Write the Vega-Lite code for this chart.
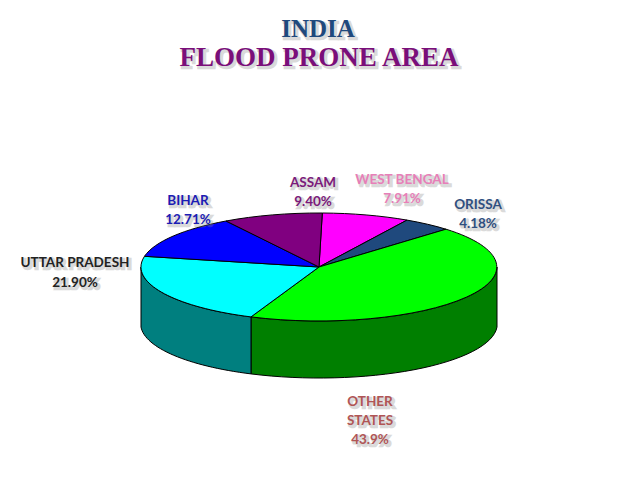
{"$schema":"https://vega.github.io/schema/vega-lite/v6.json","width":638,"height":479,"padding":0,"autosize":"none","background":"white","config":{"view":{"stroke":null}},
"data":{"values":[
{"name":"WEST BENGAL","label":"WEST BENGAL\n7.91%","value":7.91},
{"name":"ORISSA","label":"ORISSA\n4.18%","value":4.18},
{"name":"OTHER STATES","label":"OTHER\nSTATES\n43.9%","value":43.9},
{"name":"UTTAR PRADESH","label":"UTTAR PRADESH\n21.90%","value":21.9},
{"name":"BIHAR","label":"BIHAR\n12.71%","value":12.71},
{"name":"ASSAM","label":"ASSAM\n9.40%","value":9.4},
{"name":"INDIA","label":"INDIA"},
{"name":"FLOOD PRONE AREA","label":"FLOOD PRONE AREA"}]},
"resolve":{"scale":{"shape":"independent","fill":"independent"}},
"layer":[
{"transform":[{"filter":"datum.name==='OTHER STATES'||datum.name==='UTTAR PRADESH'"}],
 "mark":{"type":"point","filled":true,"size":4,"opacity":1,"stroke":"#000","strokeWidth":1},
 "encoding":{"shape":{"field":"name","type":"nominal","legend":null,"scale":{"domain":["OTHER STATES","UTTAR PRADESH"],"range":["M178 27.5A178 54 0 0 1 -68 77.4L-68 134.4A178 54 0 0 0 178 87.5Z","M-68 77.4A178 54 0 0 1 -178 27.5L-178 87.5A178 54 0 0 0 -68 134.4Z"]}},
 "fill":{"field":"name","type":"nominal","legend":null,"scale":{"domain":["OTHER STATES","UTTAR PRADESH"],"range":["#007f00","#007f7f"]}}}},
{"transform":[{"filter":"isValid(datum.value)"}],
 "mark":{"type":"point","filled":true,"size":4,"opacity":1,"stroke":"#000","strokeWidth":1},
 "encoding":{"shape":{"field":"name","type":"nominal","legend":null,"scale":{"domain":["WEST BENGAL","ORISSA","OTHER STATES","UTTAR PRADESH","BIHAR","ASSAM"],"range":[
 "M0 27.5L3.3 -26.5A178 54 0 0 1 88 -19.4Z",
 "M0 27.5L88 -19.4A178 54 0 0 1 127 -10.3Z",
 "M0 27.5L127 -10.3A178 54 0 0 1 -68 77.4Z",
 "M0 27.5L-68 77.4A178 54 0 0 1 -174.5 16.8Z",
 "M0 27.5L-174.5 16.8A178 54 0 0 1 -93 -18.5Z",
 "M0 27.5L-93 -18.5A178 54 0 0 1 3.3 -26.5Z"]}},
 "fill":{"field":"name","type":"nominal","legend":null,"scale":{"domain":["WEST BENGAL","ORISSA","OTHER STATES","UTTAR PRADESH","BIHAR","ASSAM"],"range":["#ff00ff","#1f497d","#00ff00","#00ffff","#0000ff","#800080"]}}}},
{"transform":[{"filter":"datum.name==='UTTAR PRADESH'"}],"mark":{"type":"text","font":"Lato","fontWeight":"bold","fontSize":13.5,"lineBreak":"\n","lineHeight":20,"align":"center","baseline":"alphabetic","dx":-242,"dy":29.5,"color":"#777","stroke":"#888","strokeWidth":2.5,"opacity":0.3},"encoding":{"text":{"field":"label"}}},
{"transform":[{"filter":"datum.name==='UTTAR PRADESH'"}],"mark":{"type":"text","font":"Lato","fontWeight":"bold","fontSize":13.5,"lineBreak":"\n","lineHeight":20,"align":"center","baseline":"alphabetic","dx":-244,"dy":27.5,"color":"#222"},"encoding":{"text":{"field":"label"}}},
{"transform":[{"filter":"datum.name==='BIHAR'"}],"mark":{"type":"text","font":"Lato","fontWeight":"bold","fontSize":13.5,"lineBreak":"\n","lineHeight":19,"align":"center","baseline":"alphabetic","dx":-129,"dy":-32.5,"color":"#777","stroke":"#888","strokeWidth":2.5,"opacity":0.3},"encoding":{"text":{"field":"label"}}},
{"transform":[{"filter":"datum.name==='BIHAR'"}],"mark":{"type":"text","font":"Lato","fontWeight":"bold","fontSize":13.5,"lineBreak":"\n","lineHeight":19,"align":"center","baseline":"alphabetic","dx":-131,"dy":-34.5,"color":"#1c1cb4"},"encoding":{"text":{"field":"label"}}},
{"transform":[{"filter":"datum.name==='ASSAM'"}],"mark":{"type":"text","font":"Lato","fontWeight":"bold","fontSize":13.5,"lineBreak":"\n","lineHeight":19,"align":"center","baseline":"alphabetic","dx":-4,"dy":-50.5,"color":"#777","stroke":"#888","strokeWidth":2.5,"opacity":0.3},"encoding":{"text":{"field":"label"}}},
{"transform":[{"filter":"datum.name==='ASSAM'"}],"mark":{"type":"text","font":"Lato","fontWeight":"bold","fontSize":13.5,"lineBreak":"\n","lineHeight":19,"align":"center","baseline":"alphabetic","dx":-6,"dy":-52.5,"color":"#7a1a7a"},"encoding":{"text":{"field":"label"}}},
{"transform":[{"filter":"datum.name==='WEST BENGAL'"}],"mark":{"type":"text","font":"Lato","fontWeight":"bold","fontSize":13.5,"lineBreak":"\n","lineHeight":19,"align":"center","baseline":"alphabetic","dx":85,"dy":-53.5,"color":"#777","stroke":"#888","strokeWidth":2.5,"opacity":0.3},"encoding":{"text":{"field":"label"}}},
{"transform":[{"filter":"datum.name==='WEST BENGAL'"}],"mark":{"type":"text","font":"Lato","fontWeight":"bold","fontSize":13.5,"lineBreak":"\n","lineHeight":19,"align":"center","baseline":"alphabetic","dx":83,"dy":-55.5,"color":"#e77fb8"},"encoding":{"text":{"field":"label"}}},
{"transform":[{"filter":"datum.name==='ORISSA'"}],"mark":{"type":"text","font":"Lato","fontWeight":"bold","fontSize":13.5,"lineBreak":"\n","lineHeight":19,"align":"center","baseline":"alphabetic","dx":161,"dy":-28.5,"color":"#777","stroke":"#888","strokeWidth":2.5,"opacity":0.3},"encoding":{"text":{"field":"label"}}},
{"transform":[{"filter":"datum.name==='ORISSA'"}],"mark":{"type":"text","font":"Lato","fontWeight":"bold","fontSize":13.5,"lineBreak":"\n","lineHeight":19,"align":"center","baseline":"alphabetic","dx":159,"dy":-30.5,"color":"#2f4f7f"},"encoding":{"text":{"field":"label"}}},
{"transform":[{"filter":"datum.name==='OTHER STATES'"}],"mark":{"type":"text","font":"Lato","fontWeight":"bold","fontSize":13.5,"lineBreak":"\n","lineHeight":19,"align":"center","baseline":"alphabetic","dx":53,"dy":168.5,"color":"#777","stroke":"#888","strokeWidth":2.5,"opacity":0.3},"encoding":{"text":{"field":"label"}}},
{"transform":[{"filter":"datum.name==='OTHER STATES'"}],"mark":{"type":"text","font":"Lato","fontWeight":"bold","fontSize":13.5,"lineBreak":"\n","lineHeight":19,"align":"center","baseline":"alphabetic","dx":51,"dy":166.5,"color":"#b05555"},"encoding":{"text":{"field":"label"}}},
{"transform":[{"filter":"datum.name==='INDIA'"}],"mark":{"type":"text","font":"Liberation Serif","fontWeight":"bold","fontSize":25,"align":"center","baseline":"alphabetic","dx":1,"dy":-200.5,"color":"#777","stroke":"#888","strokeWidth":2.5,"opacity":0.3},"encoding":{"text":{"field":"label"}}},
{"transform":[{"filter":"datum.name==='INDIA'"}],"mark":{"type":"text","font":"Liberation Serif","fontWeight":"bold","fontSize":25,"align":"center","baseline":"alphabetic","dx":-1,"dy":-202.5,"color":"#1f497d"},"encoding":{"text":{"field":"label"}}},
{"transform":[{"filter":"datum.name==='FLOOD PRONE AREA'"}],"mark":{"type":"text","font":"Liberation Serif","fontWeight":"bold","fontSize":27,"align":"center","baseline":"alphabetic","dx":2,"dy":-171.5,"color":"#777","stroke":"#888","strokeWidth":2.5,"opacity":0.3},"encoding":{"text":{"field":"label"}}},
{"transform":[{"filter":"datum.name==='FLOOD PRONE AREA'"}],"mark":{"type":"text","font":"Liberation Serif","fontWeight":"bold","fontSize":27,"align":"center","baseline":"alphabetic","dx":0,"dy":-173.5,"color":"#7a0f7a"},"encoding":{"text":{"field":"label"}}}
]}
